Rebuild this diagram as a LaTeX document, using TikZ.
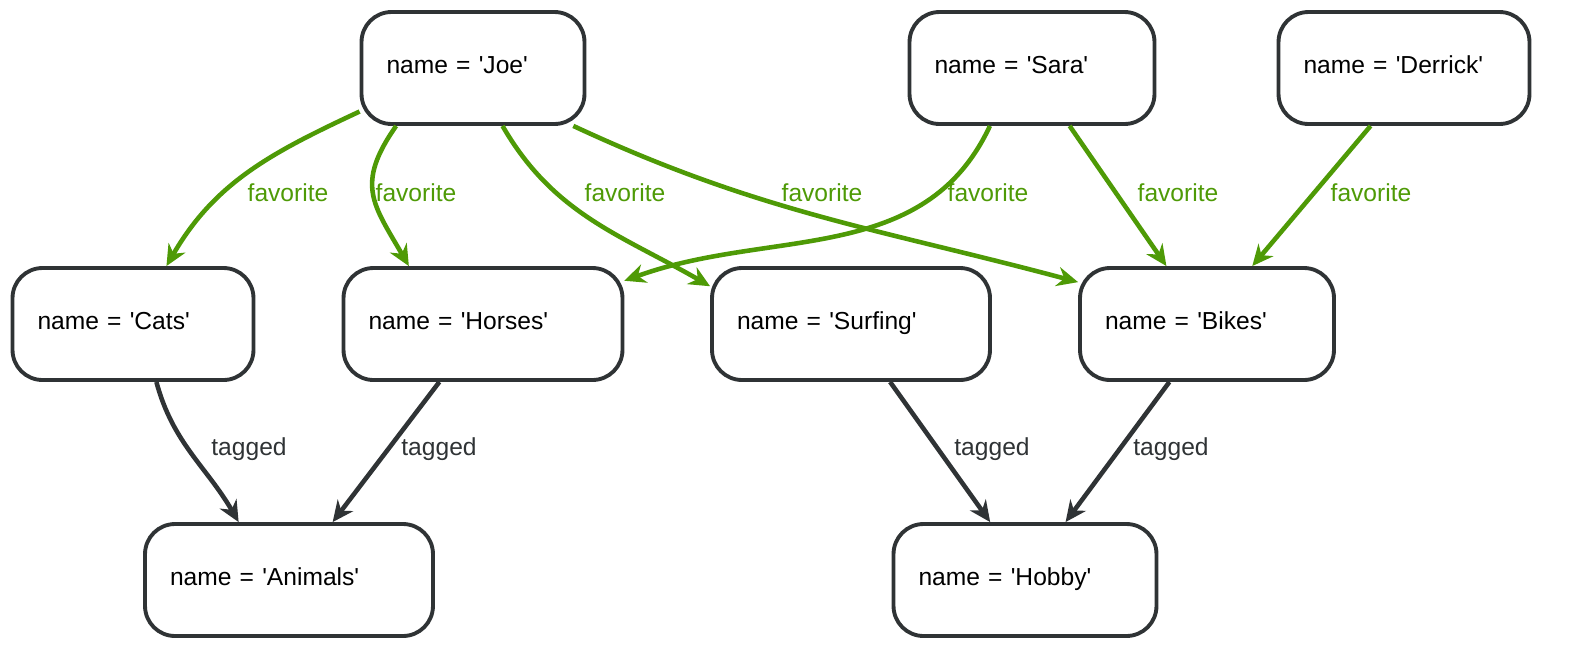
\documentclass[tikz,border=0pt]{standalone}
\usepackage{fontspec}
\setmainfont{Liberation Sans}
\usetikzlibrary{arrows.meta}
\definecolor{fav}{RGB}{78,154,6}
\definecolor{dark}{RGB}{47,51,53}
\newcommand{\q}{\textquotesingle}

\begin{document}
\begin{tikzpicture}[x=0.02cm,y=-0.02cm,line width=2.2pt,
    >={Stealth[length=12pt,width=11pt]},
    every node/.style={font=\fontsize{14}{16}\selectfont},
    box/.style={draw=dark,rounded corners=0.6cm,minimum height=2.24cm,
      text width=#1,align=left,inner xsep=0.5cm},
    favorite/.style={->,draw=fav,line width=2.6pt},
    tagged/.style={->,draw=dark,line width=2.6pt},
    flbl/.style={text=fav},
    tlbl/.style={text=dark}]
  \useasboundingbox (0,0) rectangle (1569,664);

  \node[box=3.46cm] (joe)     at (473,68)   {\strut name = \q Joe\q};
  \node[box=3.9cm]  (sara)    at (1032,68)  {\strut name = \q Sara\q};
  \node[box=4.02cm] (derrick) at (1404,68)  {\strut name = \q Derrick\q};
  \node[box=3.82cm] (cats)    at (133,324)  {\strut name = \q Cats\q};
  \node[box=4.58cm] (horses)  at (483,324)  {\strut name = \q Horses\q};
  \node[box=4.56cm] (surfing) at (851,324)  {\strut name = \q Surfing\q};
  \node[box=4.08cm] (bikes)   at (1207,324) {\strut name = \q Bikes\q};
  \node[box=4.76cm] (animals) at (289,580)  {\strut name = \q Animals\q};
  \node[box=4.26cm] (hobby)   at (1025,580) {\strut name = \q Hobby\q};

  % favorite edges
  \draw[favorite] (joe.201) to[out=205,in=60] (cats.60);
  \draw[favorite] (joe.217) to[out=235,in=120,looseness=1.3] (horses.142);
  \draw[favorite] (joe.297) to[out=-60,in=150] (surfing.165);
  \draw[favorite] (joe.330) to[out=-25,in=165] (bikes.162);
  \draw[favorite] (sara.234) to[out=-115,in=20] (horses.17);
  \draw[favorite] (sara.303) -- (bikes.125);
  \draw[favorite] (derrick.240) -- (bikes.52);

  % tagged edges
  \draw[tagged] (cats.292) to[out=-75,in=120] (animals.131);
  \draw[tagged] (horses.233) -- (animals.53);
  \draw[tagged] (surfing.304) -- (hobby.121);
  \draw[tagged] (bikes.237) -- (hobby.55);

  % labels
  \foreach \x/\n in {288/a,416/b,625/c,822/d,988/e,1178/f,1371/g}
    \node[flbl] (fav\n) at (\x,193) {favorite};
  \foreach \x/\n in {249/a,439/b,992/c,1171/d}
    \node[tlbl] (tag\n) at (\x,449) {tagged};
\end{tikzpicture}
\end{document}
